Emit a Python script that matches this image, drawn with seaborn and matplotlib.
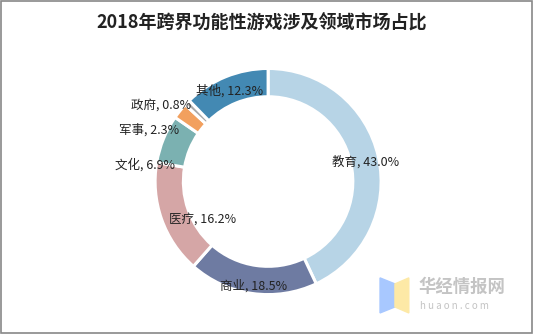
import matplotlib
matplotlib.use("Agg")
import matplotlib.pyplot as plt
import seaborn as sns
from matplotlib.patches import Polygon, Rectangle

sns.set_style("white")
plt.rcParams['font.family'] = ['Noto Sans CJK SC', 'DejaVu Sans']

# data
fields = ['教育', '商业', '医疗', '文化', '军事', '政府', '其他']
shares = [43.0, 18.5, 16.2, 6.9, 2.3, 0.8, 12.3]
colors = ['#b7d4e6', '#6e7ba2', '#d5a6a6', '#7bb1b1', '#f2a05e', '#a9a9a9', '#4389b3']

labels = [f"{f}, {v:.1f}%" for f, v in zip(fields, shares)]

# label anchor points (axes units, pie radius = 1)
label_pos = [(0.86, 0.17), (-0.13, -0.92), (-0.58, -0.33), (-1.09, 0.15),
             (-1.05, 0.46), (-0.95, 0.68), (-0.34, 0.80)]

fig = plt.figure(figsize=(5.33, 3.34), dpi=100)
ax = fig.add_axes([0.291, 0.118, 0.424, 0.677])

wedges, texts = ax.pie(shares, labels=labels, colors=colors, startangle=90,
                       counterclock=False, labeldistance=0.81,
                       wedgeprops=dict(width=0.25, edgecolor='white', linewidth=2.2),
                       textprops=dict(fontsize=9, color='#222222'))
for t, p in zip(texts, label_pos):
    t.set_position(p)
    t.set_ha('center')
    t.set_va('center')
ax.set_xlim(-1, 1)
ax.set_ylim(-1, 1)
ax.set_aspect('auto')
ax.axis('off')

fig.text(0.49, 0.932, '2018年跨界功能性游戏涉及领域市场占比', ha='center', va='center',
         fontsize=13, fontweight='bold', color='#222222')

# watermark
fig.patches.append(Polygon([[0.713, 0.168], [0.741, 0.15], [0.741, 0.081], [0.713, 0.063]],
                           closed=True, transform=fig.transFigure, color='#a8c8ff', zorder=0))
fig.patches.append(Polygon([[0.741, 0.15], [0.767, 0.168], [0.767, 0.063], [0.741, 0.081]],
                           closed=True, transform=fig.transFigure, color='#fde9a6', zorder=0))
fig.text(0.786, 0.14, '华经情报网', fontsize=12.5, fontweight='bold', color='#c4c4c4', va='center')
fig.text(0.788, 0.083, 'h u a o n . c o m', fontsize=7, color='#c4c4c4', va='center')

# frame
fig.patches.append(Rectangle((0.001, 0.002), 0.997, 0.995, transform=fig.transFigure,
                             fill=False, edgecolor='#888888', linewidth=1.2))

fig.savefig('out.png', dpi=100)
